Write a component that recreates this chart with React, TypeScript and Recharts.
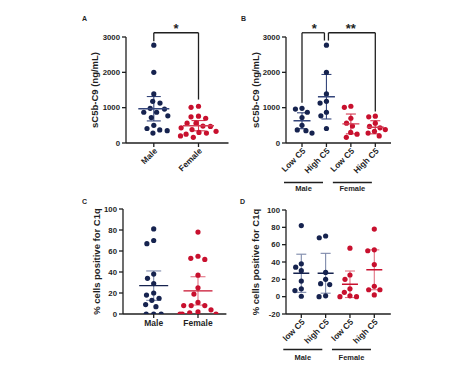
import React from 'react';
import { ScatterChart, Scatter, XAxis, YAxis, ErrorBar, ReferenceLine, Label } from 'recharts';

const FONT = '"Liberation Sans", Arial, sans-serif';
const INK = '#1f1f1f';
const NAVY = '#16234f';
const RED = '#c8102e';

// categories
const sexCats = ['Male', 'Female'];
const c5CatsB = ['Low C5', 'High C5', 'Low C5', 'High C5'];
const c5CatsD = ['low C5', 'high C5', 'low C5', 'high C5'];
const sexGroupNames = ['Male', 'Female'];

// sC5b-C9 (ng/mL), panel B groups (panel A pools them by sex)
const sc5bMaleLow = [980, 960, 870, 720, 500, 370, 350, 280];
const sc5bMaleHigh = [2770, 2000, 1390, 1180, 1130, 870, 770, 410];
const sc5bFemaleLow = [1040, 1010, 700, 560, 480, 300, 250, 160];
const sc5bFemaleHigh = [760, 740, 560, 470, 430, 380, 330, 280, 200];
const sc5bSexMean = [970, 490];
const sc5bSexErr = [345, 145];
const sc5bC5Mean = [630, 1310, 540, 445];
const sc5bC5Err = [225, 630, 280, 185];
const sc5bTicks = [0, 1000, 2000, 3000];

// % cells positive for C1q
const c1qMale = [81, 70, 67, 38, 34, 29, 20, 18, 15, 13, 9, 7, 0, 0, 0];
const c1qFemale = [78, 55, 53, 52, 37, 25, 19, 11, 8, 8, 8, 4, 2, 1, 0, 0, 0];
const c1qSexMean = [27, 22];
const c1qSexErr = [14, 13.5];
const c1qTicksC = [0, 20, 40, 60, 80, 100];

const c1qMaleLow = [82, 38, 34, 30, 18, 9, 7, 0.5];
const c1qMaleHigh = [70, 68, 28, 20, 15, 14, 1, 0];
const c1qFemaleLow = [56, 25, 20, 9, 5, 1, 0, 0];
const c1qFemaleHigh = [78, 54, 53, 37, 12, 8, 8, 2];
const c1qC5Mean = [27, 27, 14.3, 31];
const c1qC5Err = [22, 23, 15.3, 23];
const c1qTicksD = [-20, 0, 20, 40, 60, 80, 100];

type Bracket = {
  from: number; to: number; top: number; fromEnd: number; toEnd: number;
  text: string; fromShift?: number; toShift?: number;
};
const bracketsA: Bracket[] = [{ from: 0, to: 1, top: 3120, fromEnd: 2880, toEnd: 1230, text: '*' }];
const bracketsB: Bracket[] = [
  { from: 0, to: 1, top: 3120, fromEnd: 1140, toEnd: 2900, text: '*', toShift: -2 },
  { from: 1, to: 3, top: 3120, fromEnd: 2900, toEnd: 890, text: '**', fromShift: 2 },
];

const AXIS_W = 50;
const TOP = 30;
const RIGHT = 10;
const BOTTOM = 58;

// simple beeswarm: offsets in px so that dots don't overlap
function swarm(vals: number[], pxPer: number, d: number, maxW: number) {
  const placed: { x: number; y: number }[] = [];
  const out = new Array(vals.length).fill(0);
  const order = vals.map((_, i) => i).sort((a, b) => vals[b] - vals[a]);
  for (const i of order) {
    const y = vals[i] * pxPer;
    const blocked: [number, number][] = [];
    placed.forEach((p) => {
      const dy = Math.abs(p.y - y);
      if (dy < d) {
        const w = Math.sqrt(d * d - dy * dy);
        blocked.push([p.x - w, p.x + w]);
      }
    });
    const cands = [0];
    blocked.forEach(([a, b]) => cands.push(a, b));
    cands.sort((a, b) => Math.abs(a) - Math.abs(b) || a - b);
    let x = cands.find((c) => blocked.every(([a, b]) => c <= a + 1e-6 || c >= b - 1e-6)) ?? 0;
    if (Math.abs(x) > maxW) x = Math.sign(x) * maxW;
    placed.push({ x, y });
    out[i] = x;
  }
  return out;
}

const seg = (dx1: number, dx2: number) => (p: any) => (
  <line x1={p.x1 + dx1} y1={p.y1} x2={p.x2 + dx2} y2={p.y2} stroke={INK} strokeWidth={1.3} />
);

type PanelProps = {
  letter: string;
  letterAt: [number, number];
  box: { x0: number; x1: number; yTop: number; yBot: number };
  pad: [number, number];
  cats: string[];
  groups: number[][];
  means: number[];
  errs: number[];
  colors: string[];
  barColors: string[];
  meanColors: string[];
  yDomain: [number, number];
  yTicks: number[];
  yLabel: string;
  yLabelDx: number;
  meanHalf: number;
  capHalf: number;
  rotated: boolean;
  groupLine?: { dy: number; textDy: number };
  brackets?: Bracket[];
  gap: number;
  maxSpread: number;
};

function Panel(p: PanelProps) {
  const width = p.box.x1 - p.box.x0 + AXIS_W + RIGHT;
  const height = p.box.yBot - p.box.yTop + TOP + BOTTOM;
  const pxPer = (p.box.yBot - p.box.yTop) / (p.yDomain[1] - p.yDomain[0]);
  const idx = p.cats.map((_, i) => i);
  const txt = { fontFamily: FONT, fontWeight: 700, fill: INK } as const;

  const renderTick = (t: any) => {
    const { x, y, payload } = t;
    const i = payload.value as number;
    if (!p.rotated) {
      return (
        <text x={x} y={y} dy="0.75em" textAnchor="middle" fontSize={8.5} {...txt}>
          {p.cats[i]}
        </text>
      );
    }
    return (
      <g>
        <text x={x} y={y} dx={1} dy="0.55em" transform={`rotate(-45 ${x} ${y})`} textAnchor="end" fontSize={8.4} {...txt}>
          {p.cats[i]}
        </text>
        {p.groupLine && i % 2 === 0 && (
          <g>
            <line x1={x - 18} x2={x + 21} y1={y + p.groupLine.dy} y2={y + p.groupLine.dy} stroke={INK} strokeWidth={1.5} />
            <text x={x + 1.5} y={y + p.groupLine.textDy} textAnchor="middle" fontSize={7.5} {...txt}>
              {sexGroupNames[i / 2]}
            </text>
          </g>
        )}
      </g>
    );
  };

  return (
    <div style={{ position: 'absolute', left: p.box.x0 - AXIS_W, top: p.box.yTop - TOP }}>
      <ScatterChart width={width} height={height} margin={{ top: TOP, right: RIGHT, left: 0, bottom: 0 }}>
        <XAxis
          type="number"
          dataKey="gi"
          domain={[0, p.cats.length - 1]}
          ticks={idx}
          interval={0}
          padding={{ left: p.pad[0], right: p.pad[1] }}
          height={BOTTOM}
          tickSize={4}
          stroke={INK}
          strokeWidth={1.3}
          tick={renderTick}
        />
        <YAxis
          type="number"
          dataKey="val"
          domain={p.yDomain}
          ticks={p.yTicks}
          interval={0}
          allowDataOverflow
          width={AXIS_W}
          tickSize={4}
          stroke={INK}
          strokeWidth={1.3}
          tick={{ fontSize: 7.8, fontWeight: 700, fill: INK, fontFamily: FONT }}
        >
          <Label
            position="center"
            content={({ viewBox }: any) => {
              const cx = viewBox.x + viewBox.width / 2 + p.yLabelDx;
              const cy = viewBox.y + viewBox.height / 2;
              return (
                <text x={cx} y={cy} transform={`rotate(-90 ${cx} ${cy})`} textAnchor="middle" dominantBaseline="central" fontSize={9.5} {...txt}>
                  {p.yLabel}
                </text>
              );
            }}
          />
        </YAxis>
        {p.groups.map((vals, gi) => {
          const dx = swarm(vals.map((v) => v - p.yDomain[0]), pxPer, p.gap, p.maxSpread);
          const data = vals.map((v, k) => ({ gi, val: v, dx: dx[k] }));
          return (
            <Scatter
              key={`pts${gi}`}
              data={data}
              isAnimationActive={false}
              shape={(s: any) => <circle cx={s.cx + s.payload.dx} cy={s.cy} r={2.6} fill={p.colors[gi]} />}
            />
          );
        })}
        {p.means.map((m, gi) => (
          <Scatter
            key={`mean${gi}`}
            data={[{ gi, val: m, err: p.errs[gi] }]}
            isAnimationActive={false}
            shape={(s: any) => (
              <line x1={s.cx - p.meanHalf} x2={s.cx + p.meanHalf} y1={s.cy} y2={s.cy} stroke={p.meanColors[gi]} strokeWidth={1.4} />
            )}
          >
            <ErrorBar dataKey="err" direction="y" width={p.capHalf} stroke={p.barColors[gi]} strokeWidth={1.1} isAnimationActive={false} />
          </Scatter>
        ))}
        {(p.brackets || []).flatMap((b, bi) => [
          <ReferenceLine
            key={`bh${bi}`}
            segment={[{ x: b.from, y: b.top }, { x: b.to, y: b.top }]}
            ifOverflow="visible"
            shape={seg(b.fromShift || 0, b.toShift || 0)}
            label={{ value: b.text, position: 'top', offset: 0, fontSize: 13, fontWeight: 700, fill: INK, fontFamily: FONT }}
          />,
          <ReferenceLine
            key={`bl${bi}`}
            segment={[{ x: b.from, y: b.top }, { x: b.from, y: b.fromEnd }]}
            ifOverflow="visible"
            shape={seg(b.fromShift || 0, b.fromShift || 0)}
          />,
          <ReferenceLine
            key={`br${bi}`}
            segment={[{ x: b.to, y: b.top }, { x: b.to, y: b.toEnd }]}
            ifOverflow="visible"
            shape={seg(b.toShift || 0, b.toShift || 0)}
          />,
        ])}
      </ScatterChart>
      <div
        style={{
          position: 'absolute',
          left: p.letterAt[0] - (p.box.x0 - AXIS_W) - 3,
          top: p.letterAt[1] - (p.box.yTop - TOP) - 5,
          fontFamily: FONT,
          fontWeight: 700,
          fontSize: 7,
          color: INK,
        }}
      >
        {p.letter}
      </div>
    </div>
  );
}

export default function App() {
  const navyBar = '#34457a';
  const redBar = '#d33a52';
  const navyLight = '#7d89aa';
  const redLight = '#e27384';
  return (
    <div style={{ position: 'absolute', left: 0, top: 0, width: 474, height: 371, background: '#fff', overflow: 'hidden' }}>
      <Panel
        letter="A"
        letterAt={[85, 20]}
        box={{ x0: 125.5, x1: 228, yTop: 37.3, yBot: 143.3 }}
        pad={[27.8, 30]}
        cats={sexCats}
        groups={[[...sc5bMaleLow, ...sc5bMaleHigh], [...sc5bFemaleLow, ...sc5bFemaleHigh]]}
        means={sc5bSexMean}
        errs={sc5bSexErr}
        colors={[NAVY, RED]}
        barColors={[navyBar, redBar]}
        meanColors={[navyBar, redBar]}
        yDomain={[0, 3000]}
        yTicks={sc5bTicks}
        yLabel="sC5b-C9 (ng/mL)"
        yLabelDx={-7}
        meanHalf={15.5}
        capHalf={7}
        rotated
        brackets={bracketsA}
        gap={7.5}
        maxSpread={18}
      />
      <Panel
        letter="B"
        letterAt={[244, 20]}
        box={{ x0: 285.7, x1: 390.7, yTop: 37.3, yBot: 143.3 }}
        pad={[16, 15.7]}
        cats={c5CatsB}
        groups={[sc5bMaleLow, sc5bMaleHigh, sc5bFemaleLow, sc5bFemaleHigh]}
        means={sc5bC5Mean}
        errs={sc5bC5Err}
        colors={[NAVY, NAVY, RED, RED]}
        barColors={[navyBar, navyBar, redBar, redBar]}
        meanColors={[navyBar, navyBar, redBar, redBar]}
        yDomain={[0, 3000]}
        yTicks={sc5bTicks}
        yLabel="sC5b-C9 (ng/mL)"
        yLabelDx={-5.7}
        meanHalf={8.5}
        capHalf={5}
        rotated
        groupLine={{ dy: 33.5, textDy: 42 }}
        brackets={bracketsB}
        gap={6.6}
        maxSpread={10}
      />
      <Panel
        letter="C"
        letterAt={[85, 203]}
        box={{ x0: 123.3, x1: 226.7, yTop: 209.3, yBot: 314.3 }}
        pad={[30.7, 28.4]}
        cats={sexCats}
        groups={[c1qMale, c1qFemale]}
        means={c1qSexMean}
        errs={c1qSexErr}
        colors={[NAVY, RED]}
        barColors={[navyLight, redLight]}
        meanColors={[NAVY, RED]}
        yDomain={[0, 100]}
        yTicks={c1qTicksC}
        yLabel="% cells positive for C1q"
        yLabelDx={-1.6}
        meanHalf={14.5}
        capHalf={7.5}
        rotated={false}
        gap={7.5}
        maxSpread={18}
      />
      <Panel
        letter="D"
        letterAt={[243, 203]}
        box={{ x0: 285.7, x1: 390.5, yTop: 210, yBot: 314 }}
        pad={[15.3, 16.5]}
        cats={c5CatsD}
        groups={[c1qMaleLow, c1qMaleHigh, c1qFemaleLow, c1qFemaleHigh]}
        means={c1qC5Mean}
        errs={c1qC5Err}
        colors={[NAVY, NAVY, RED, RED]}
        barColors={[navyLight, navyLight, redLight, redLight]}
        meanColors={[NAVY, NAVY, RED, RED]}
        yDomain={[-20, 100]}
        yTicks={c1qTicksD}
        yLabel="% cells positive for C1q"
        yLabelDx={-5.7}
        meanHalf={8}
        capHalf={5}
        rotated
        groupLine={{ dy: 29.5, textDy: 40 }}
        gap={6.6}
        maxSpread={10}
      />
    </div>
  );
}
